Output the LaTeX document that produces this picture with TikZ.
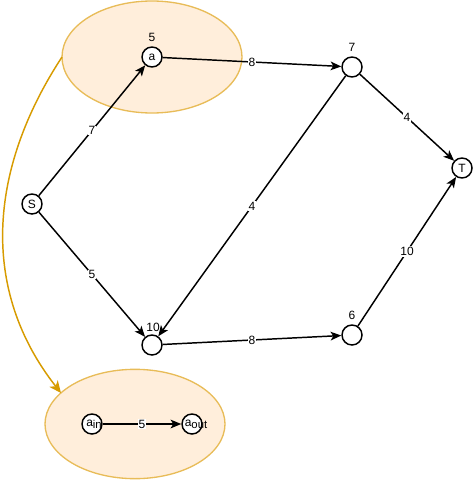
\documentclass[tikz,border=0pt]{standalone}
\usepackage{fontspec}
\setmainfont{Liberation Sans}
\usetikzlibrary{arrows.meta,shapes.geometric}
\definecolor{ellfill}{HTML}{FFEEDB}
\definecolor{elldraw}{HTML}{E8BC58}
\definecolor{curve}{HTML}{D79B00}
\newcommand{\subtxt}[1]{\raisebox{-0.35ex}{\fontsize{8.5}{10}\selectfont #1}}
\tikzset{
  vtx/.style={circle,draw=black,line width=1.1pt,fill=white,minimum size=15pt,inner sep=0pt,font=\fontsize{9}{10}\selectfont},
  tag/.style={font=\fontsize{9}{10}\selectfont,inner sep=1pt},
  edge/.style={line width=1.1pt,-{Stealth[length=8pt,width=6.5pt,inset=2pt]}},
  elab/.style={font=\fontsize{9}{10}\selectfont,fill=white,inner sep=0.6pt,midway},
  blob/.style={ellipse,draw=elldraw,fill=ellfill,line width=1pt,inner sep=0pt}
}
\begin{document}
\begin{tikzpicture}[x=0.75pt,y=-0.75pt]
\useasboundingbox (0,0) rectangle (474,485);
\node[blob,minimum width=135pt,minimum height=84pt] (top) at (152,57) {};
\node[blob,minimum width=135pt,minimum height=82pt] (bot) at (135,424) {};
\coordinate (cs) at (62,57);
\coordinate (ce) at (61,393);
\draw[curve,line width=1.1pt,-{Stealth[length=9pt,width=8pt,inset=2.5pt]}] (cs) .. controls (-12,170) and (-20,290) .. (ce);

\node[vtx] (a) at (152,57) {a};
\node[vtx] (S) at (32,204) {S};
\node[vtx] (n7) at (352,67) {};
\node[vtx] (T) at (462,168) {T};
\node[vtx] (n10) at (152,345) {};
\node[vtx] (n6) at (352,335) {};
\node[tag] (la) at (152,37) {5};
\node[tag] (l7) at (352,47) {7};
\node[tag] (l10) at (153,327) {10};
\node[tag] (l6) at (352,315) {6};

\draw[edge] (S) -- node[elab]{7} (a);
\draw[edge] (S) -- node[elab]{5} (n10);
\draw[edge] (a) -- node[elab]{8} (n7);
\draw[edge] (n7) -- node[elab]{4} (n10);
\draw[edge] (n7) -- node[elab]{4} (T);
\draw[edge] (n6) -- node[elab]{10} (T);
\draw[edge] (n10) -- node[elab]{8} (n6);

\node[vtx] (ain) at (92,424) {};
\node[vtx] (aout) at (192,424) {};
\draw[edge] (ain) -- node[elab]{5} (aout);
\node[tag] (tin) at (94,424) {a\subtxt{in}};
\node[tag] (tout) at (196,424) {a\subtxt{out}};
\end{tikzpicture}
\end{document}
